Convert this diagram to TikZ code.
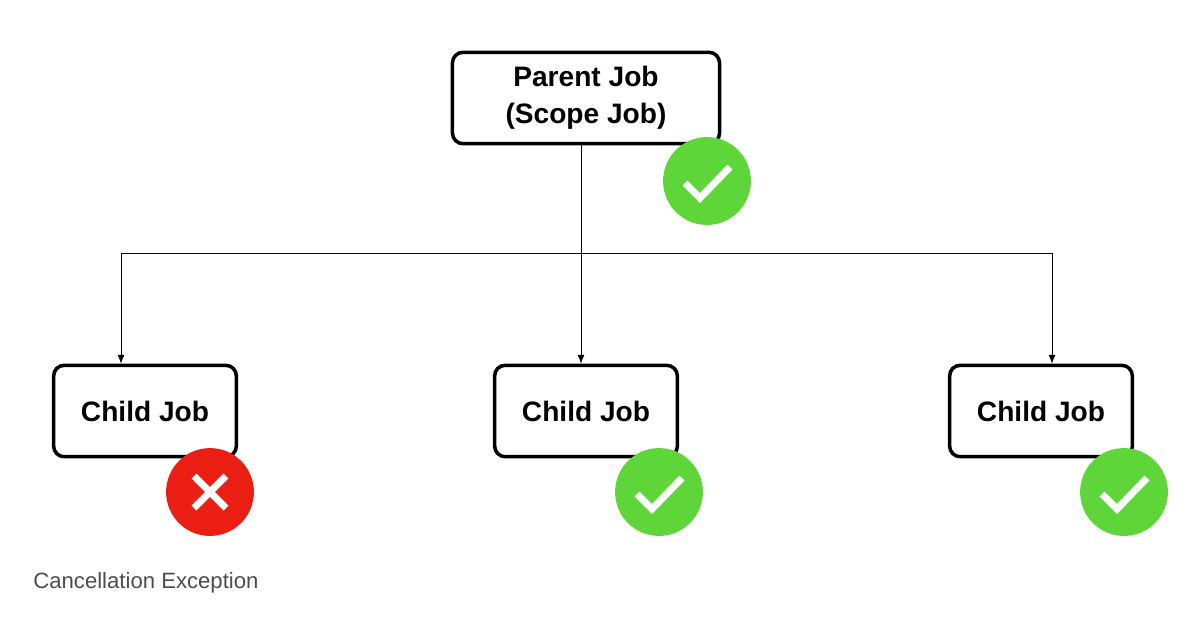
\documentclass[tikz,border=0pt]{standalone}
\usepackage{fontspec}
\setmainfont{Liberation Sans}
\usetikzlibrary{positioning, arrows.meta}
\definecolor{okgreen}{RGB}{94,214,58}
\definecolor{badred}{RGB}{235,30,20}
\tikzset{
  job/.style={draw, line width=2pt, rounded corners=6pt, font=\fontsize{16}{21}\selectfont\bfseries, align=center},
  badge/.style={circle, minimum size=50pt, inner sep=0pt},
  arr/.style={-{Latex[length=5pt,width=4pt]}},
}
\begin{document}
\begin{tikzpicture}[x=0.02cm, y=-0.02cm]
                  % Frame
                  \useasboundingbox (0,0) rectangle (1200,623);

                  % Boxes
                  \node[job, minimum width=152pt, minimum height=52pt] (parent) at (586,98) {Parent Job\\(Scope Job)};
                  \node[job, minimum width=104pt, minimum height=52pt] (left) at (145,411) {Child Job};
                  \node[job, minimum width=104pt, minimum height=52pt] (mid) at (586,411) {Child Job};
                  \node[job, minimum width=104pt, minimum height=52pt] (right) at (1041,411) {Child Job};

                  % Connectors
                  \coordinate (split) at (581,253);
                  \coordinate (westend) at (121,253);
                  \coordinate (eastend) at (1052,253);
                  \draw (parent.south -| split) -- (split);
                  \draw (westend) -- (eastend);
                  \draw[arr] (westend) -- (westend |- left.north);
                  \draw[arr] (split) -- (split |- mid.north);
                  \draw[arr] (eastend) -- (eastend |- right.north);

                  % Badges
                  \foreach \name/\px/\py in {okp/707/181, okm/659/492, okr/1124/492} {
                    \node[badge, fill=okgreen] (\name) at (\px,\py) {};
                    \draw[white, line width=4pt] ([shift={(-22,2)}]\name.center) -- ([shift={(-7,17)}]\name.center) -- ([shift={(23,-14)}]\name.center);
                  }
                  \node[badge, fill=badred] (fail) at (210,492) {};
                  \draw[white, line width=4pt] ([shift={(-16,-16)}]fail.center) -- ([shift={(16,16)}]fail.center)
                                               ([shift={(-16,16)}]fail.center) -- ([shift={(16,-16)}]fail.center);

                  % Labels
                  \node[anchor=west, text=black!70, font=\fontsize{12.6}{15}\selectfont, inner sep=0pt] (cancel) at (33,583) {Cancellation Exception};
\end{tikzpicture}
\end{document}
